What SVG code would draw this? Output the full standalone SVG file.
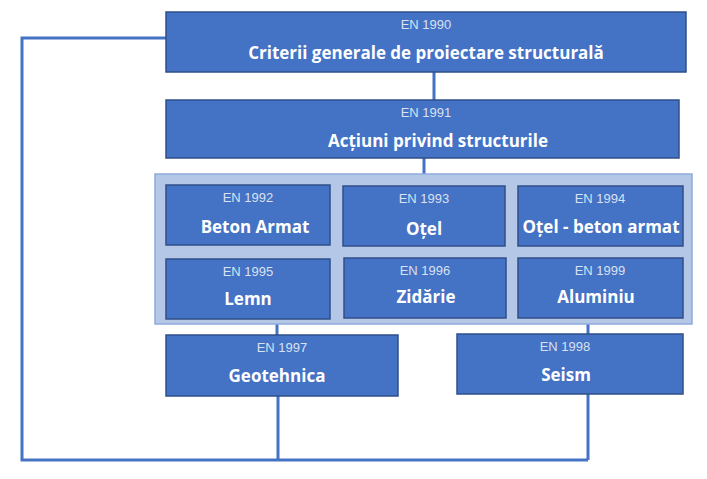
<svg xmlns="http://www.w3.org/2000/svg" width="707" height="479" viewBox="0 0 707 479">
<style>
.b{fill:#4472C4;stroke:#2F4F8A;stroke-width:1.5}
.s{font-family:"Liberation Sans",Arial,sans-serif;font-size:13px;fill:#D9E1F2;text-anchor:middle}
.t{font-family:"Open Sans","Liberation Sans",sans-serif;font-size:17px;font-weight:bold;fill:#fff;text-anchor:middle}
.c{fill:none;stroke:#4472C4;stroke-width:3}
</style>
<rect width="707" height="479" fill="#fff"/>
<g id="connectors">
<path class="c" d="M434 72V100M424 158V186M277 319V335M588 318V334M166 38H22V460H588M278 396V460M588 394V460"/>
</g>
<rect id="group" x="155" y="174" width="537" height="150" fill="#B4C7E7" stroke="#8FAADC" stroke-width="1.5"/>
<g id="en1990"><rect class="b" x="166" y="12" width="520" height="60"/><text class="s" x="426" y="29">EN 1990</text><text class="t" x="426" y="59">Criterii generale de proiectare structurală</text></g>
<g id="en1991"><rect class="b" x="166" y="100" width="513" height="58"/><text class="s" x="426" y="117">EN 1991</text><text class="t" x="438" y="147">Acțiuni privind structurile</text></g>
<g id="en1992"><rect class="b" x="166" y="185" width="164" height="60"/><text class="s" x="248" y="202">EN 1992</text><text class="t" x="255" y="233">Beton Armat</text></g>
<g id="en1993"><rect class="b" x="343" y="186" width="162" height="60"/><text class="s" x="424" y="203">EN 1993</text><text class="t" x="424" y="235">Oțel</text></g>
<g id="en1994"><rect class="b" x="518" y="186" width="165" height="60"/><text class="s" x="600" y="203">EN 1994</text><text class="t" x="601" y="233">Oțel - beton armat</text></g>
<g id="en1995"><rect class="b" x="166" y="259" width="164" height="60"/><text class="s" x="248" y="276">EN 1995</text><text class="t" x="248" y="305">Lemn</text></g>
<g id="en1996"><rect class="b" x="344" y="258" width="162" height="60"/><text class="s" x="425" y="275">EN 1996</text><text class="t" x="426" y="303">Zidărie</text></g>
<g id="en1999"><rect class="b" x="518" y="258" width="165" height="60"/><text class="s" x="600" y="275">EN 1999</text><text class="t" x="596" y="303">Aluminiu</text></g>
<g id="en1997"><rect class="b" x="166" y="335" width="232" height="61"/><text class="s" x="282" y="352">EN 1997</text><text class="t" x="277" y="382">Geotehnica</text></g>
<g id="en1998"><rect class="b" x="457" y="334" width="226" height="60"/><text class="s" x="565" y="351">EN 1998</text><text class="t" x="566" y="381">Seism</text></g>
</svg>
